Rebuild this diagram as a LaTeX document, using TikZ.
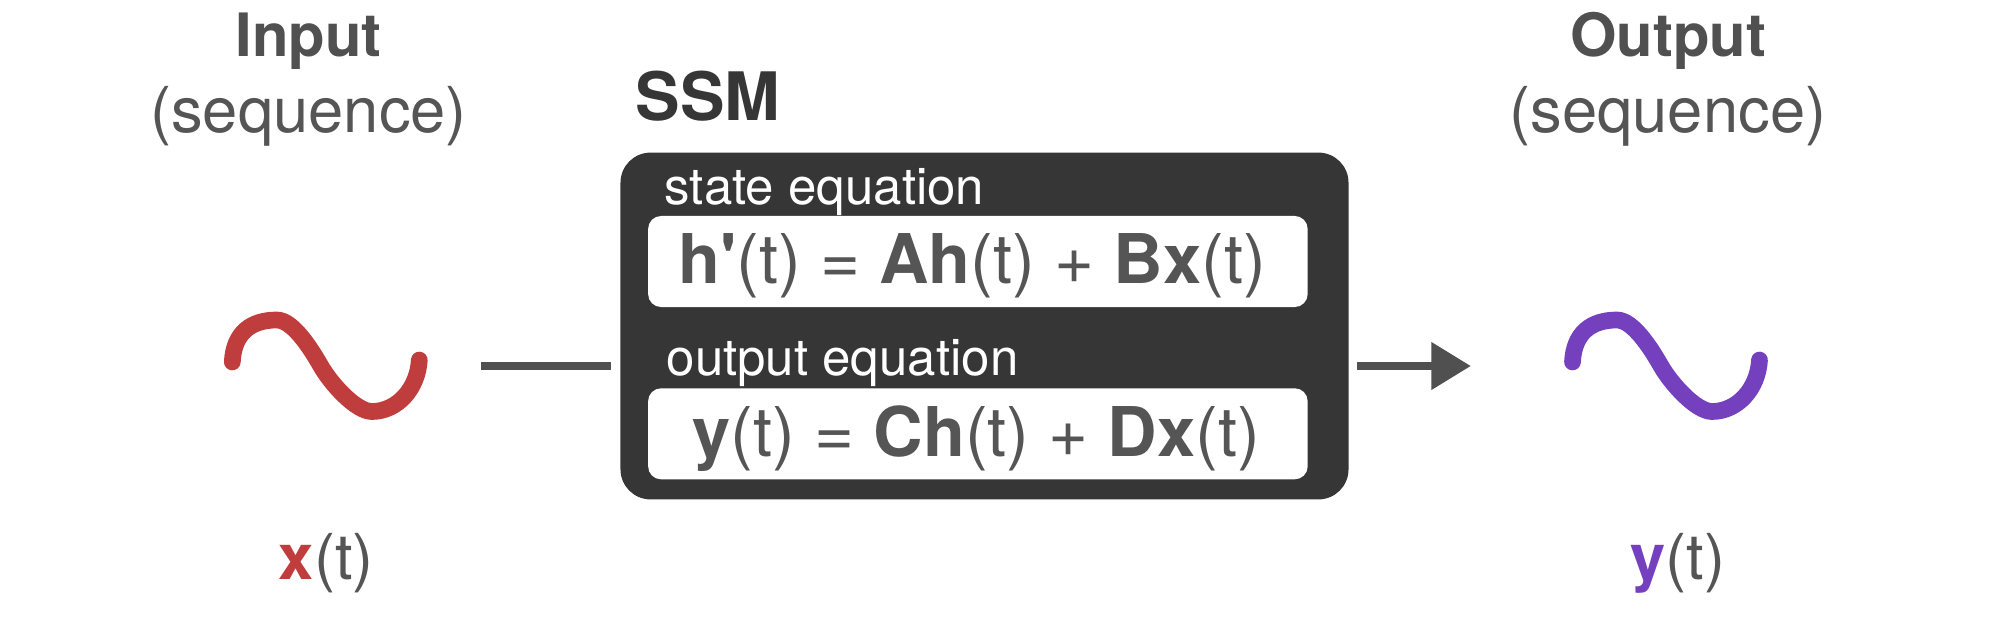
\documentclass[tikz,border=0pt]{standalone}
\usepackage{fontspec}
\newfontfamily\heros{texgyreheros}[Extension=.otf, UprightFont=*-regular, BoldFont=*-bold]
\usetikzlibrary{arrows.meta,positioning,calc}
\definecolor{ssmdark}{HTML}{363636}
\definecolor{ssmgray}{HTML}{555555}
\definecolor{ssmline}{HTML}{505050}
\definecolor{inred}{HTML}{BF3D3D}
\definecolor{outpurple}{HTML}{7440BE}

\begin{document}
\begin{tikzpicture}[
    x=0.01cm, y=-0.01cm,
    titletext/.style={anchor=base, inner sep=0pt, text=ssmline, font=\heros\fontsize{17}{20}\selectfont\bfseries},
    seqtext/.style={anchor=base, inner sep=0pt, text=ssmgray, font=\heros\fontsize{18}{21}\selectfont},
    boxhead/.style={anchor=base west, inner sep=0pt, text=white, font=\heros\fontsize{14.5}{17}\selectfont},
    eqtext/.style={anchor=base, inner sep=0pt, text=ssmgray, font=\heros\fontsize{19.5}{23}\selectfont},
    ssmbox/.style={rectangle, fill=ssmdark, rounded corners=0.3cm, minimum width=7.276cm, minimum height=3.466cm, inner sep=0pt},
    eqbox/.style={rectangle, fill=white, rounded corners=0.13cm, minimum width=6.592cm, minimum height=0.91cm, inner sep=0pt},
    signode/.style={rectangle, inner sep=0pt, minimum width=2.04cm, minimum height=1cm},
    sigwave/.style={line width=0.167cm, line cap=round, line join=round},
    sigline/.style={draw=ssmline, line width=0.08cm},
]
    \useasboundingbox (0,0) rectangle (2008,624);

    % Input side
    \node[titletext] (intitle) at (308.6,56) {Input};
    \node[seqtext] (inseq) at (308.6,132) {(sequence)};
    \node[signode] (xin) at (325.8,366) {};
    \draw[sigwave, draw=inred, shift={(xin.center)}] (-93.5,-4) .. controls (-92,-34) and (-74,-46) .. (-49,-46)
        .. controls (-33,-46) and (-15,-17.5) .. (-5,0) .. controls (5,17.5) and (30,45.5) .. (46,45.5)
        .. controls (72,45.5) and (92,22) .. (93.5,-6);
    \node[seqtext] (xlabel) at (326.3,579.3) {\textcolor{inred}{\bfseries x}(t)};

    % SSM block
    \node[anchor=base west, inner sep=0pt, text=ssmdark, font=\heros\fontsize{19}{23}\selectfont\bfseries] (ssmtitle) at (635,120) {SSM};
    \node[ssmbox] (ssm) at (984.5,326) {};
    \node[boxhead] (sthead) at (664,204) {state equation};
    \node[eqbox] (steq) at (977.9,261.5) {};
    \node[eqtext] (steqtext) at (972.2,283.3) {{\bfseries h'}(t) = {\bfseries Ah}(t) + {\bfseries Bx}(t)};
    \node[boxhead] (outhead) at (666,375) {output equation};
    \node[eqbox] (outeq) at (977.9,433.8) {};
    \node[eqtext] (outeqtext) at (976.5,456.5) {{\bfseries y}(t) = {\bfseries Ch}(t) + {\bfseries Dx}(t)};

    % Output side
    \node[titletext] (outtitle) at (1668.3,56) {Output};
    \node[seqtext] (outseq) at (1667.8,132) {(sequence)};
    \node[signode] (yout) at (1666,366) {};
    \draw[sigwave, draw=outpurple, shift={(yout.center)}] (-93.5,-4) .. controls (-92,-34) and (-74,-46) .. (-49,-46)
        .. controls (-33,-46) and (-15,-17.5) .. (-5,0) .. controls (5,17.5) and (30,45.5) .. (46,45.5)
        .. controls (72,45.5) and (92,22) .. (93.5,-6);
    \node[seqtext] (ylabel) at (1677.7,579.3) {\textcolor{outpurple}{\bfseries y}(t)};

    % Connectors
    \draw[sigline, shorten <=0.522cm, shorten >=0.087cm] (xin.east) -- (xin.east -| ssm.west);
    \draw[sigline, -{Triangle[length=0.394cm, width=0.457cm]}, shorten <=0.077cm, shorten >=0.923cm] (yout.west -| ssm.east) -- (yout.west);
\end{tikzpicture}
\end{document}
